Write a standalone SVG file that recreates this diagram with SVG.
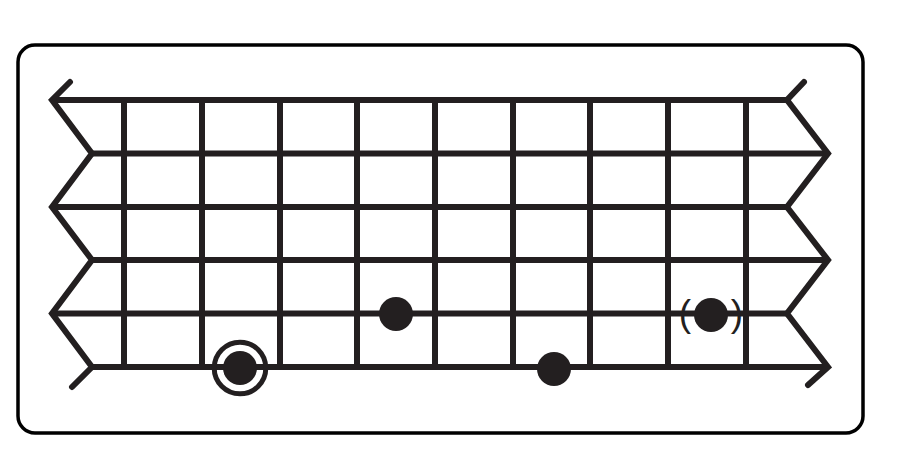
<svg xmlns="http://www.w3.org/2000/svg" width="900" height="467" viewBox="0 0 900 467">
<style>
.frame{fill:#fff;stroke:#000;stroke-width:3.5}
.ln{fill:none;stroke:#231f20;stroke-width:6;stroke-linecap:round;stroke-linejoin:miter}
.v{stroke:#231f20;stroke-width:6}
.dot{fill:#231f20}
.ring{fill:none;stroke:#231f20;stroke-width:5}
.par{font-family:"Liberation Sans",Arial,sans-serif;font-size:37px;fill:#231f20;text-anchor:middle}
</style>
<rect width="900" height="467" fill="#fff"/>
<rect class="frame" x="18" y="45" width="845" height="388" rx="17" ry="17"/>
<g id="connectors">
<g id="strings">
<line class="v" x1="52" y1="100" x2="787" y2="100"/>
<line class="v" x1="92" y1="153.5" x2="828" y2="153.5"/>
<line class="v" x1="52" y1="207" x2="787" y2="207"/>
<line class="v" x1="92" y1="260" x2="828" y2="260"/>
<line class="v" x1="52" y1="313.5" x2="787" y2="313.5"/>
<line class="v" x1="92" y1="367" x2="828" y2="367"/>
</g>
<g id="frets">
<line class="v" x1="124" y1="100" x2="124" y2="367"/>
<line class="v" x1="202" y1="100" x2="202" y2="367"/>
<line class="v" x1="280" y1="100" x2="280" y2="367"/>
<line class="v" x1="357" y1="100" x2="357" y2="367"/>
<line class="v" x1="435" y1="100" x2="435" y2="367"/>
<line class="v" x1="513" y1="100" x2="513" y2="367"/>
<line class="v" x1="590" y1="100" x2="590" y2="367"/>
<line class="v" x1="668" y1="100" x2="668" y2="367"/>
<line class="v" x1="746" y1="100" x2="746" y2="367"/>
</g>
<path id="left-zigzag" class="ln" d="M70,82 L52,100 L92,153.5 L52,207 L92,260 L52,313.5 L92,367 L72,387"/>
<path id="right-zigzag" class="ln" d="M804,82 L787,100 L828,153.5 L787,207 L828,260 L787,313.5 L828,367 L808,385"/>
</g>
<g id="dot-root">
<circle class="ring" cx="240" cy="368" r="25.8"/>
<circle class="dot" cx="240" cy="368" r="17"/>
</g>
<g id="dot-1"><circle class="dot" cx="396" cy="314" r="17"/></g>
<g id="dot-2"><circle class="dot" cx="554" cy="369" r="17"/></g>
<g id="dot-optional">
<circle class="dot" cx="711" cy="315" r="17"/>
<text class="par" x="685" y="326">(</text>
<text class="par" x="737" y="326">)</text>
</g>
</svg>
